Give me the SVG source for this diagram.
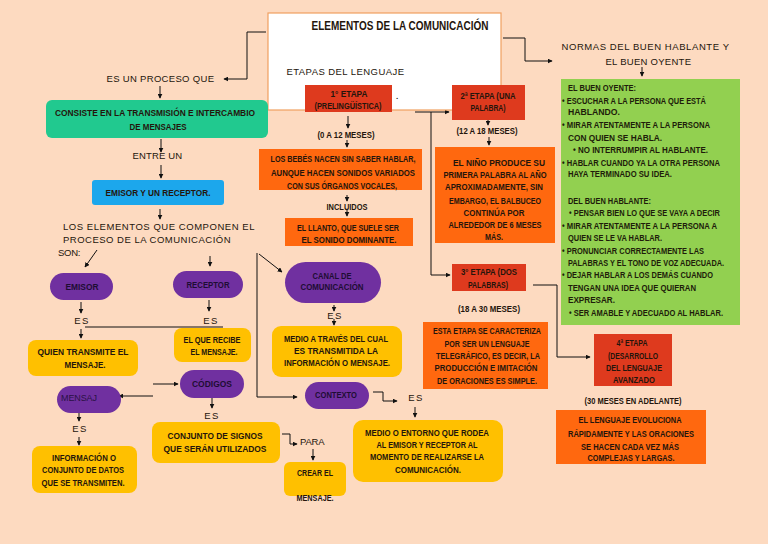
<svg xmlns="http://www.w3.org/2000/svg" width="768" height="544" viewBox="0 0 768 544">
<defs>
<marker id="ah" viewBox="0 0 8 8" refX="7" refY="4" markerWidth="5" markerHeight="5" orient="auto" markerUnits="userSpaceOnUse"><path d="M0,0 L8,4 L0,8 z" fill="#111"/></marker>
<style>
.t{font-family:"Liberation Sans",Arial,sans-serif;font-weight:bold;font-size:9.5px;fill:#24150c;text-anchor:middle}
.g{font-family:"Liberation Sans",Arial,sans-serif;font-weight:bold;font-size:9px;fill:#201c0a}
.s{font-family:"Liberation Sans",Arial,sans-serif;font-size:9.5px;fill:#24150c;letter-spacing:1.5px;text-anchor:middle}
.pt{font-family:"Liberation Sans",Arial,sans-serif;font-weight:bold;font-size:9.5px;fill:#1e0d33;text-anchor:middle}
.red{fill:#de3a1e}
.org{fill:#ff680f}
.yel{fill:#ffc000}
.pur{fill:#7030a0}
.c line,.c path{stroke:#111;stroke-width:1;fill:none}
.c .a{marker-end:url(#ah)}
</style>
</defs>
<rect width="768" height="544" fill="#fddac0"/>

<g id="connectors" class="c">
<path class="a" d="M266,32 H247 V79 H224"/>
<path class="a" d="M160,86 V98"/>
<path class="a" d="M161,139 V152"/>
<path class="a" d="M161,165 V178"/>
<path class="a" d="M160,209 V219"/>
<path class="a" d="M97,250 L85,267"/>
<path class="a" d="M210,256 V266"/>
<path class="a" d="M81,302 V313"/>
<path class="a" d="M81,329 V338"/>
<path d="M85,327 H223"/>
<path class="a" d="M209,300 V311"/>
<path class="a" d="M257,253 V397 H297"/>
<path class="a" d="M259,254 L282,272"/>
<path class="a" d="M334,305 V311"/>
<path class="a" d="M334,319 V325"/>
<path class="a" d="M373,392 H383 V401 H397"/>
<path class="a" d="M415,407 V417"/>
<path class="a" d="M153,384 H178"/>
<path class="a" d="M153,396 H119"/>
<path class="a" d="M79,409 V421"/>
<path class="a" d="M79,437 V445"/>
<path class="a" d="M212,398 V408"/>
<path class="a" d="M282,434 H290 V444 H297"/>
<path class="a" d="M313,449 V460"/>
<path class="a" d="M348,116 V128"/>
<path class="a" d="M347,140 V147"/>
<path class="a" d="M347,195 V201"/>
<path class="a" d="M347,210 V216"/>
<path class="a" d="M415,112 H449"/>
<path class="a" d="M431,112 V275 H450"/>
<path class="a" d="M488,116 V125"/>
<path class="a" d="M489,137 V145"/>
<path class="a" d="M533,285 H557 V357 H590"/>
<path class="a" d="M503,38 H525 V61 H552"/>
<path class="a" d="M642,67 V76"/>
</g>

<g id="title">
<rect x="268" y="13" width="233" height="97" fill="#fff" stroke="#f0a060" stroke-width="1.2"/>
<text class="t" x="400" y="30" style="font-size:12px" textLength="177" lengthAdjust="spacingAndGlyphs">ELEMENTOS DE LA COMUNICACIÓN</text>
<text class="s" x="346" y="75" textLength="119">ETAPAS DEL LENGUAJE</text>
<text class="t" x="397" y="99" style="font-size:8px">.</text>
</g>

<g id="etapa1">
<rect class="red" x="305" y="85" width="87" height="27"/>
<text class="t" x="349" y="97" textLength="37" lengthAdjust="spacingAndGlyphs">1° ETAPA</text>
<text class="t" x="348" y="109" textLength="67" lengthAdjust="spacingAndGlyphs">(PRELINGÜÍSTICA)</text>
</g>
<g id="meses1"><text class="t" x="346" y="138" textLength="57" lengthAdjust="spacingAndGlyphs">(0 A 12 MESES)</text></g>
<g id="bebes">
<rect class="org" x="259" y="149" width="163" height="41"/>
<text class="t" x="343" y="162" textLength="145" lengthAdjust="spacingAndGlyphs">LOS BEBÉS NACEN SIN SABER HABLAR,</text>
<text class="t" x="343" y="176" textLength="144" lengthAdjust="spacingAndGlyphs">AUNQUE HACEN SONIDOS VARIADOS</text>
<text class="t" x="342" y="189" textLength="110" lengthAdjust="spacingAndGlyphs">CON SUS ÓRGANOS VOCALES,</text>
</g>
<g id="incluidos"><text class="t" x="347" y="210" textLength="41" lengthAdjust="spacingAndGlyphs">INCLUIDOS</text></g>
<g id="llanto">
<rect class="org" x="285" y="218" width="128" height="28"/>
<text class="t" x="348" y="231" textLength="102" lengthAdjust="spacingAndGlyphs">EL LLANTO, QUE SUELE SER</text>
<text class="t" x="349" y="243" textLength="95" lengthAdjust="spacingAndGlyphs">EL SONIDO DOMINANTE.</text>
</g>

<g id="etapa2">
<rect class="red" x="452" y="85" width="73" height="35"/>
<text class="t" x="488" y="99" textLength="55" lengthAdjust="spacingAndGlyphs">2ª ETAPA (UNA</text>
<text class="t" x="488" y="111" textLength="35" lengthAdjust="spacingAndGlyphs">PALABRA)</text>
</g>
<g id="meses2"><text class="t" x="487" y="134" textLength="61" lengthAdjust="spacingAndGlyphs">(12 A 18 MESES)</text></g>
<g id="nino">
<rect class="org" x="435" y="147" width="120" height="96"/>
<text class="t" x="499" y="166" textLength="92" lengthAdjust="spacingAndGlyphs">EL NIÑO PRODUCE SU</text>
<text class="t" x="495" y="178" textLength="103" lengthAdjust="spacingAndGlyphs">PRIMERA PALABRA AL AÑO</text>
<text class="t" x="494" y="190" textLength="98" lengthAdjust="spacingAndGlyphs">APROXIMADAMENTE, SIN</text>
<text class="t" x="495" y="204" textLength="92" lengthAdjust="spacingAndGlyphs">EMBARGO, EL BALBUCEO</text>
<text class="t" x="494" y="216" textLength="61" lengthAdjust="spacingAndGlyphs">CONTINÚA POR</text>
<text class="t" x="495" y="228" textLength="93" lengthAdjust="spacingAndGlyphs">ALREDEDOR DE 6 MESES</text>
<text class="t" x="494" y="240" textLength="18" lengthAdjust="spacingAndGlyphs">MÁS.</text>
</g>

<g id="etapa3">
<rect class="red" x="452" y="264" width="74" height="27"/>
<text class="t" x="489" y="275" textLength="56" lengthAdjust="spacingAndGlyphs">3° ETAPA (DOS</text>
<text class="t" x="488" y="288" textLength="40" lengthAdjust="spacingAndGlyphs">PALABRAS)</text>
</g>
<g id="meses3"><text class="t" x="489" y="312" textLength="62" lengthAdjust="spacingAndGlyphs">(18 A 30 MESES)</text></g>
<g id="telegrafico">
<rect class="org" x="423" y="322" width="125" height="67"/>
<text class="t" x="487" y="334" textLength="108" lengthAdjust="spacingAndGlyphs">ESTA ETAPA SE CARACTERIZA</text>
<text class="t" x="487" y="347" textLength="85" lengthAdjust="spacingAndGlyphs">POR SER UN LENGUAJE</text>
<text class="t" x="488" y="359" textLength="104" lengthAdjust="spacingAndGlyphs">TELEGRÁFICO, ES DECIR, LA</text>
<text class="t" x="486" y="371" textLength="103" lengthAdjust="spacingAndGlyphs">PRODUCCIÓN E IMITACIÓN</text>
<text class="t" x="487" y="384" textLength="100" lengthAdjust="spacingAndGlyphs">DE ORACIONES ES SIMPLE.</text>
</g>

<g id="etapa4">
<rect class="red" x="594" y="334" width="78" height="52"/>
<text class="t" x="632" y="346" textLength="31" lengthAdjust="spacingAndGlyphs">4ª ETAPA</text>
<text class="t" x="633" y="359" textLength="50" lengthAdjust="spacingAndGlyphs">(DESARROLLO</text>
<text class="t" x="634" y="371" textLength="56" lengthAdjust="spacingAndGlyphs">DEL LENGUAJE</text>
<text class="t" x="634" y="383" textLength="42" lengthAdjust="spacingAndGlyphs">AVANZADO</text>
</g>
<g id="meses4"><text class="t" x="633" y="404" textLength="97" lengthAdjust="spacingAndGlyphs">(30 MESES EN ADELANTE)</text></g>
<g id="evoluciona">
<rect class="org" x="556" y="410" width="150" height="54"/>
<text class="t" x="630" y="423" textLength="103" lengthAdjust="spacingAndGlyphs">EL LENGUAJE EVOLUCIONA</text>
<text class="t" x="631" y="437" textLength="126" lengthAdjust="spacingAndGlyphs">RÁPIDAMENTE Y LAS ORACIONES</text>
<text class="t" x="630" y="450" textLength="98" lengthAdjust="spacingAndGlyphs">SE HACEN CADA VEZ MÁS</text>
<text class="t" x="631" y="461" textLength="87" lengthAdjust="spacingAndGlyphs">COMPLEJAS Y LARGAS.</text>
</g>

<g id="normas">
<text class="s" x="646" y="50" textLength="169">NORMAS DEL BUEN HABLANTE Y</text>
<text class="s" x="649" y="65" textLength="87">EL BUEN OYENTE</text>
</g>
<g id="green">
<rect x="561" y="79" width="179" height="246" fill="#92d050"/>
<text class="g" x="568" y="91" textLength="68" lengthAdjust="spacingAndGlyphs">EL BUEN OYENTE:</text>
<text class="g" x="562" y="104" textLength="144" lengthAdjust="spacingAndGlyphs">• ESCUCHAR A LA PERSONA QUE ESTÁ</text>
<text class="g" x="568" y="115" textLength="52" lengthAdjust="spacingAndGlyphs">HABLANDO.</text>
<text class="g" x="562" y="128" textLength="148" lengthAdjust="spacingAndGlyphs">• MIRAR ATENTAMENTE A LA PERSONA</text>
<text class="g" x="568" y="141" textLength="94" lengthAdjust="spacingAndGlyphs">CON QUIEN SE HABLA.</text>
<text class="g" x="573" y="153" textLength="135" lengthAdjust="spacingAndGlyphs">• NO INTERRUMPIR AL HABLANTE.</text>
<text class="g" x="562" y="166" textLength="158" lengthAdjust="spacingAndGlyphs">• HABLAR CUANDO YA LA OTRA PERSONA</text>
<text class="g" x="568" y="177" textLength="104" lengthAdjust="spacingAndGlyphs">HAYA TERMINADO SU IDEA.</text>
<text class="g" x="568" y="204" textLength="83" lengthAdjust="spacingAndGlyphs">DEL BUEN HABLANTE:</text>
<text class="g" x="569" y="216" textLength="151" lengthAdjust="spacingAndGlyphs">• PENSAR BIEN LO QUE SE VAYA A DECIR</text>
<text class="g" x="562" y="229" textLength="155" lengthAdjust="spacingAndGlyphs">• MIRAR ATENTAMENTE A LA PERSONA A</text>
<text class="g" x="568" y="241" textLength="94" lengthAdjust="spacingAndGlyphs">QUIEN SE LE VA HABLAR.</text>
<text class="g" x="562" y="254" textLength="142" lengthAdjust="spacingAndGlyphs">• PRONUNCIAR CORRECTAMENTE LAS</text>
<text class="g" x="568" y="266" textLength="156" lengthAdjust="spacingAndGlyphs">PALABRAS Y EL TONO DE VOZ ADECUADA.</text>
<text class="g" x="562" y="278" textLength="151" lengthAdjust="spacingAndGlyphs">• DEJAR HABLAR A LOS DEMÁS CUANDO</text>
<text class="g" x="568" y="291" textLength="128" lengthAdjust="spacingAndGlyphs">TENGAN UNA IDEA QUE QUIERAN</text>
<text class="g" x="568" y="303" textLength="47" lengthAdjust="spacingAndGlyphs">EXPRESAR.</text>
<text class="g" x="569" y="316" textLength="154" lengthAdjust="spacingAndGlyphs">• SER AMABLE Y ADECUADO AL HABLAR.</text>
</g>

<g id="proceso"><text class="s" x="161" y="82" textLength="109">ES UN PROCESO QUE</text></g>
<g id="consiste">
<rect x="46" y="100" width="222" height="38" rx="6" fill="#21c98f"/>
<text class="t" x="155" y="116" textLength="200" lengthAdjust="spacingAndGlyphs">CONSISTE EN LA TRANSMISIÓN E INTERCAMBIO</text>
<text class="t" x="158" y="130" textLength="57" lengthAdjust="spacingAndGlyphs">DE MENSAJES</text>
</g>
<g id="entre"><text class="s" x="158" y="159" textLength="51">ENTRE UN</text></g>
<g id="emisorreceptor">
<rect x="92" y="180" width="132" height="25" rx="3" fill="#1ca7ec"/>
<text class="t" x="158" y="196" textLength="105" lengthAdjust="spacingAndGlyphs">EMISOR Y UN RECEPTOR.</text>
</g>
<g id="elementos">
<text class="s" x="63" y="230" style="text-anchor:start" textLength="193">LOS ELEMENTOS QUE COMPONEN EL</text>
<text class="s" x="63" y="243" style="text-anchor:start" textLength="169">PROCESO DE LA COMUNICACIÓN</text>
<text class="s" x="58" y="256" style="text-anchor:start" textLength="24">SON:</text>
</g>

<g id="emisor">
<rect class="pur" x="50" y="273" width="63" height="27" rx="13.5"/>
<text class="pt" x="82" y="290" textLength="33" lengthAdjust="spacingAndGlyphs">EMISOR</text>
</g>
<g id="es1"><text class="s" x="82" y="324">ES</text></g>
<g id="quien">
<rect class="yel" x="28" y="340" width="110" height="36" rx="8"/>
<text class="t" x="83" y="355" textLength="91" lengthAdjust="spacingAndGlyphs">QUIEN TRANSMITE EL</text>
<text class="t" x="85" y="368" textLength="41" lengthAdjust="spacingAndGlyphs">MENSAJE.</text>
</g>
<g id="receptor">
<rect class="pur" x="173" y="271" width="70" height="27" rx="13.5"/>
<text class="pt" x="208" y="288" textLength="43" lengthAdjust="spacingAndGlyphs">RECEPTOR</text>
</g>
<g id="es2"><text class="s" x="211" y="324">ES</text></g>
<g id="recibe">
<rect class="yel" x="174" y="328" width="77" height="34" rx="8"/>
<text class="t" x="212" y="343" textLength="57" lengthAdjust="spacingAndGlyphs">EL QUE RECIBE</text>
<text class="t" x="214" y="355" textLength="47" lengthAdjust="spacingAndGlyphs">EL MENSAJE.</text>
</g>

<g id="canal">
<rect class="pur" x="285" y="262" width="96" height="41" rx="20.5"/>
<text class="pt" x="332" y="279" textLength="39" lengthAdjust="spacingAndGlyphs">CANAL DE</text>
<text class="pt" x="332" y="290" textLength="63" lengthAdjust="spacingAndGlyphs">COMUNICACIÓN</text>
</g>
<g id="es3"><text class="s" x="335" y="319">ES</text></g>
<g id="medio">
<rect class="yel" x="272" y="326" width="130" height="51" rx="9"/>
<text class="t" x="336" y="342" textLength="104" lengthAdjust="spacingAndGlyphs">MEDIO A TRAVÉS DEL CUAL</text>
<text class="t" x="336" y="354" textLength="84" lengthAdjust="spacingAndGlyphs">ES TRANSMITIDA LA</text>
<text class="t" x="337" y="366" textLength="106" lengthAdjust="spacingAndGlyphs">INFORMACIÓN O MENSAJE.</text>
</g>

<g id="contexto">
<rect class="pur" x="305" y="382" width="64" height="27" rx="13.5"/>
<text class="pt" x="336" y="398" textLength="42" lengthAdjust="spacingAndGlyphs">CONTEXTO</text>
</g>
<g id="es4"><text class="s" x="416" y="401">ES</text></g>
<g id="entorno">
<rect class="yel" x="353" y="420" width="150" height="62" rx="10"/>
<text class="t" x="427" y="436" textLength="124" lengthAdjust="spacingAndGlyphs">MEDIO O ENTORNO QUE RODEA</text>
<text class="t" x="427" y="448" textLength="101" lengthAdjust="spacingAndGlyphs">AL EMISOR Y RECEPTOR AL</text>
<text class="t" x="427" y="460" textLength="114" lengthAdjust="spacingAndGlyphs">MOMENTO DE REALIZARSE LA</text>
<text class="t" x="428" y="473" textLength="66" lengthAdjust="spacingAndGlyphs">COMUNICACIÓN.</text>
</g>

<g id="codigos">
<rect class="pur" x="180" y="370" width="64" height="28" rx="14"/>
<text class="pt" x="212" y="387" textLength="40" lengthAdjust="spacingAndGlyphs">CÓDIGOS</text>
</g>
<g id="es5"><text class="s" x="212" y="419">ES</text></g>
<g id="signos">
<rect class="yel" x="152" y="422" width="128" height="41" rx="8"/>
<text class="t" x="215" y="439" textLength="95" lengthAdjust="spacingAndGlyphs">CONJUNTO DE SIGNOS</text>
<text class="t" x="215" y="452" textLength="103" lengthAdjust="spacingAndGlyphs">QUE SERÁN UTILIZADOS</text>
</g>
<g id="para"><text class="s" x="313" y="445" textLength="26">PARA</text></g>
<g id="crear">
<rect class="yel" x="284" y="462" width="62" height="34" rx="6"/>
<text class="t" x="315" y="476" textLength="36" lengthAdjust="spacingAndGlyphs">CREAR EL</text>
<text class="t" x="315" y="501" textLength="37" lengthAdjust="spacingAndGlyphs">MENSAJE.</text>
</g>

<g id="mensaj">
<rect class="pur" x="57" y="386" width="64" height="27" rx="13.5"/>
<text x="61" y="401" font-family="Liberation Sans, Arial, sans-serif" font-size="9" fill="#2a1045" letter-spacing="1" textLength="37">MENSAJ</text>
</g>
<g id="es6"><text class="s" x="80" y="432">ES</text></g>
<g id="informacion">
<rect class="yel" x="32" y="446" width="105" height="47" rx="8"/>
<text class="t" x="84" y="461" textLength="64" lengthAdjust="spacingAndGlyphs">INFORMACIÓN O</text>
<text class="t" x="83" y="473" textLength="82" lengthAdjust="spacingAndGlyphs">CONJUNTO DE DATOS</text>
<text class="t" x="83" y="486" textLength="83" lengthAdjust="spacingAndGlyphs">QUE SE TRANSMITEN.</text>
</g>
</svg>
